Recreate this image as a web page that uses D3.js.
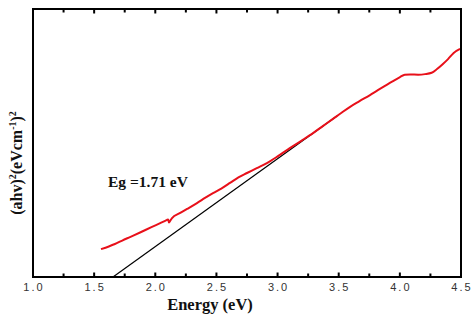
<!DOCTYPE html>
<html>
<head>
<meta charset="utf-8">
<script src="https://cdn.jsdelivr.net/npm/d3@7"></script>
<style>
html,body{margin:0;padding:0;background:#fff;}
svg{display:block;}
</style>
</head>
<body>
<svg id="chart" width="474" height="327"></svg>
<script>
// Data
const energy = [1.556,1.62,1.67,1.73,1.793,1.88,1.973,2.04,2.096,2.105,2.112,2.125,2.137,2.2,2.26,2.341,2.41,2.472,2.54,2.611,2.68,2.75,2.83,2.913,3.0,3.10,3.2,3.29,3.37,3.453,3.52,3.59,3.67,3.756,3.82,3.878,3.94,4.001,4.04,4.083,4.15,4.206,4.26,4.304,4.35,4.394,4.44,4.492];
const absorb = [1.04,1.14,1.23,1.36,1.49,1.67,1.87,2.01,2.13,2.15,2.03,2.12,2.20,2.38,2.54,2.76,2.96,3.13,3.30,3.51,3.72,3.88,4.06,4.25,4.5,4.81,5.1,5.37,5.63,5.90,6.12,6.34,6.56,6.79,6.97,7.13,7.3,7.46,7.55,7.56,7.55,7.57,7.62,7.76,7.94,8.13,8.36,8.51];
const fitE = [1.654, 3.486];
const fitY = [0, 6.01];
const xTicks = [1.0,1.5,2.0,2.5,3.0,3.5,4.0,4.5];
const xMinor = [1.25,1.75,2.25,2.75,3.25,3.75,4.25];
const xLabel = "Energy (eV)";
const yLabelParts = [["(ahv)",0],["2",1],["(eVcm",0],["-1",1],[")",0],["2",1]];
const annotation = "Eg =1.71 eV";

const svg = d3.select("#chart");
const L = 33, R = 461, T = 9, B = 277;
const x = d3.scaleLinear().domain([1.0, 4.5]).range([L, R]);
const y = d3.scaleLinear().domain([0, 10]).range([B, T]);

// ticks
const tickG = svg.append("g");
const allTicks = xTicks.map(v=>({v,len:4.5})).concat(xMinor.map(v=>({v,len:3.5})));
tickG.selectAll("line.b").data(allTicks).join("line")
  .attr("x1", d=>x(d.v)).attr("x2", d=>x(d.v))
  .attr("y1", B).attr("y2", d=>B-d.len)
  .attr("stroke","#000").attr("stroke-width",2);
tickG.selectAll("line.t").data(allTicks.filter(d=>d.v>1.0 && d.v<4.5)).join("line").attr("class","t")
  .attr("x1", d=>x(d.v)).attr("x2", d=>x(d.v))
  .attr("y1", T).attr("y2", d=>T+d.len)
  .attr("stroke","#000").attr("stroke-width",2);

// tick labels
svg.append("g").selectAll("text").data(xTicks).join("text")
  .attr("x", d=>x(d)+1).attr("y", 291)
  .attr("text-anchor","middle")
  .attr("font-family","Liberation Sans, Arial, sans-serif")
  .attr("font-size",11).attr("letter-spacing","2px")
  .attr("fill","#333")
  .text(d=>d3.format(".1f")(d));

// lines
const line = d3.line().x(d=>x(d[0])).y(d=>y(d[1])).curve(d3.curveMonotoneX);
svg.append("path").datum(fitE.map((e,i)=>[e,fitY[i]]))
  .attr("d", d3.line().x(d=>x(d[0])).y(d=>y(d[1])))
  .attr("fill","none").attr("stroke","#000").attr("stroke-width",1.2);
svg.append("path").datum(energy.map((e,i)=>[e,absorb[i]]))
  .attr("d", line)
  .attr("fill","none").attr("stroke","#e8101a").attr("stroke-width",2);

// frame
svg.append("rect").attr("x",L).attr("y",T).attr("width",R-L).attr("height",B-T)
  .attr("fill","none").attr("stroke","#000").attr("stroke-width",2);

// labels
svg.append("text").attr("x",210).attr("y",310).attr("text-anchor","middle")
  .attr("font-family","Liberation Serif, Times New Roman, serif").attr("font-weight","bold")
  .attr("font-size",16.5).attr("fill","#111").text(xLabel);

const yl = svg.append("text").attr("transform","translate(22,163) rotate(-90)").attr("text-anchor","middle")
  .attr("font-family","Liberation Serif, Times New Roman, serif").attr("font-weight","bold")
  .attr("font-size",16).attr("fill","#111");
yl.selectAll("tspan").data(yLabelParts).join("tspan")
  .attr("font-size", d=>d[1]?10:16)
  .attr("dy", (d,i)=>{ const prev = i>0?yLabelParts[i-1][1]:0; if(d[1]&&!prev) return -6; if(!d[1]&&prev) return 6; return 0; })
  .text(d=>d[0]);

svg.append("text").attr("x",108).attr("y",187)
  .attr("font-family","Liberation Serif, Times New Roman, serif").attr("font-weight","bold")
  .attr("font-size",15.5).attr("fill","#111").text(annotation);
</script>
</body>
</html>
